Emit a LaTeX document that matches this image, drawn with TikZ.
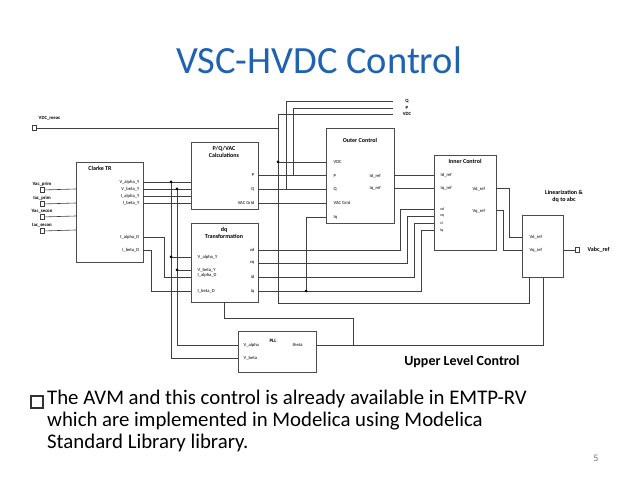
\documentclass[tikz,border=0pt]{standalone}
\usepackage{fontspec}
\setmainfont{Carlito}
\begin{document}
\begin{tikzpicture}[x=1pt,y=-1pt,
  box/.style={draw=black!70,line width=0.6pt,anchor=north west,inner sep=0},
  w/.style={draw=black!75,line width=0.6pt},
  lbl/.style={font=\fontsize{4.6}{5}\selectfont,inner sep=0.5pt},
  ttl/.style={font=\fontsize{6}{7}\selectfont\bfseries,align=center,inner sep=0},
  port/.style={draw=black!75,line width=0.5pt,minimum size=4.5pt,inner sep=0,fill=white},
  dot/.style={circle,fill=black,inner sep=0,minimum size=3pt}]
\definecolor{ttlblue}{RGB}{31,98,178}
\useasboundingbox (0,0) rectangle (638,478);
\node[font=\fontsize{38.5}{42}\selectfont,text=ttlblue] (title) at (319,60) {VSC-HVDC Control};
% boxes
\node[box,minimum width=67pt,minimum height=100pt] (clarke) at (76,162) {};
\node[ttl,anchor=north] (tclarke) at (100,166) {Clarke TR};
\node[box,minimum width=67pt,minimum height=67pt] (pq) at (191,142) {};
\node[ttl,anchor=north] (tpq) at (224,146) {P/Q/VAC\\Calculations};
\node[box,minimum width=67pt,minimum height=79pt] (dq) at (191,223) {};
\node[ttl,anchor=north] (tdq) at (224,227) {dq\\Transformation};
\node[box,minimum width=68pt,minimum height=95pt] (outer) at (326,128) {};
\node[ttl,anchor=north] (touter) at (360,138) {Outer Control};
\node[box,minimum width=62pt,minimum height=95pt] (inner) at (434,155) {};
\node[ttl,anchor=north] (tinner) at (465,159) {Inner Control};
\node[box,minimum width=41pt,minimum height=62pt] (lin) at (522,215) {};
\node[ttl] (tlin) at (564,196) {Linearization \&\\dq to abc};
\node[box,minimum width=78pt,minimum height=41pt] (pll) at (238,331) {};
% labels
\foreach \n/\t/\y in {ca/V\_alpha\_Y/182,cb/V\_beta\_Y/189,cc/I\_alpha\_Y/196,cd/I\_beta\_Y/203,ce/I\_alpha\_D/237,cf/I\_beta\_D/250}
  \node[lbl,anchor=east] (l\n) at (140,\y) {\t};
\foreach \n/\t/\y in {pa/P/175,pb/Q/189,pc/VAC Grid/203}
  \node[lbl,anchor=east] (l\n) at (255,\y) {\t};
\foreach \n/\t/\y in {da/vd/250,db/vq/263,dc/id/277,dd/iq/291}
  \node[lbl,anchor=east] (l\n) at (255,\y) {\t};
\node[lbl,anchor=west] (lv1) at (197,257) {V\_alpha\_Y};
\node[lbl,anchor=west] (lv2) at (197,270) {V\_beta\_Y};
\node[lbl,anchor=west] (lv3) at (197,275.5) {I\_alpha\_D};
\node[lbl,anchor=west] (lv4) at (197,291) {I\_beta\_D};
\foreach \n/\t/\y in {oa/VDC/162,ob/P/176,oc/Q/189,od/VAC Grid/203,oe/Iq/217}
  \node[lbl,anchor=west] (l\n) at (333,\y) {\t};
\node[lbl,anchor=west] (lof) at (369,176) {Id\_ref};
\node[lbl,anchor=west] (log) at (369,188) {Iq\_ref};
\node[lbl,anchor=west] (lia) at (440,175) {Id\_ref};
\node[lbl,anchor=west] (lib) at (440,188) {Iq\_ref};
\foreach \n/\t/\y in {ic1/vd/209,ic2/vq/216,ic3/vi/223,ic4/iq/230}
  \node[lbl,anchor=west,font=\fontsize{4}{4}\selectfont,inner sep=0] (l\n) at (440,\y) {\t};
\node[lbl,anchor=west] (lid) at (472,189) {Vd\_ref};
\node[lbl,anchor=west] (lie) at (472,211) {Vq\_ref};
\node[lbl,anchor=west] (lla) at (529,237) {Vd\_ref};
\node[lbl,anchor=west] (llb) at (529,250) {Vq\_ref};
\node[lbl,anchor=west] (lpa) at (243,345) {V\_alpha};
\node[lbl,anchor=west] (lpb) at (243,358) {V\_beta};
\node[lbl,font=\fontsize{5}{6}\selectfont\bfseries] (lpc) at (273,341) {PLL};
\node[lbl,anchor=west] (lpd) at (292,345) {theta};
% ports
\node[port] (vdcm) at (34,128) {};
\node[lbl,anchor=south west,font=\fontsize{4.8}{5}\selectfont\bfseries] (lvdcm) at (38,121) {VDC\_meas};
\foreach \n/\t/\y in {p1/Vac\_prim/189,p2/Iac\_prim/203,p3/Vac\_secon/216,p4/Iac\_secon/230}{
  \node[port] (\n) at (42,\y+1) {};
  \node[lbl,anchor=south,font=\fontsize{4.8}{5}\selectfont\bfseries] (l\n) at (42,\y-2.5) {\t};
  \draw[w] (\n) -- (76,\y);}
\node[port] (vabc) at (577,250) {};
\node[lbl,anchor=west,font=\fontsize{6}{7}\selectfont\bfseries] (lvabc) at (587,250) {Vabc\_ref};
\node[lbl,font=\fontsize{4.8}{5}\selectfont\bfseries] (lq) at (407,101) {Q};
\node[lbl,font=\fontsize{4.8}{5}\selectfont\bfseries] (lp) at (407,107.5) {P};
\node[lbl,font=\fontsize{4.8}{5}\selectfont\bfseries] (lvdc) at (407,114) {VDC};
% wires
\draw[w] (vdcm) -- (278,128);
\draw[w] (278,114) -- (393,114);
\draw[w] (286,101) -- (393,101);
\draw[w] (293,108) -- (393,108);
\draw[w] (278,114) -- (278,303) -- (529,303) -- (529,277);
\draw[w] (278,162) -- (326,162);
\node[dot] (d1) at (278,162) {};
\draw[w] (258,175) -- (326,175);
\draw[w] (293,175) -- (293,108);
\draw[w] (258,189) -- (326,189);
\draw[w] (286,189) -- (286,101);
\draw[w] (258,203) -- (326,203);
\foreach \y in {182,189,196,203} \draw[w] (143,\y) -- (191,\y);
\draw[w] (171,182) -- (171,358) -- (238,358);
\draw[w] (177,189) -- (177,345) -- (238,345);
\node[dot] (d2) at (171,182) {};
\node[dot] (d3) at (177,189) {};
\draw[w] (171,257) -- (191,257);
\node[dot] (d4) at (171,257) {};
\draw[w] (177,270) -- (191,270);
\node[dot] (d5) at (177,270) {};
\draw[w] (143,237) -- (164,237) -- (164,277) -- (191,277);
\draw[w] (143,250) -- (151,250) -- (151,291) -- (191,291);
\draw[w] (258,250) -- (400,250) -- (400,209) -- (434,209);
\draw[w] (258,263) -- (407,263) -- (407,216) -- (434,216);
\draw[w] (258,277) -- (414,277) -- (414,223) -- (434,223);
\draw[w] (258,291) -- (421,291) -- (421,230) -- (434,230);
\draw[w] (306,291) -- (306,217) -- (326,217);
\node[dot] (d6) at (306,291) {};
\draw[w] (394,175) -- (434,175);
\draw[w] (394,188) -- (434,188);
\draw[w] (496,188) -- (509,188) -- (509,237) -- (522,237);
\draw[w] (496,210) -- (503,210) -- (503,250) -- (522,250);
\draw[w] (563,250) -- (vabc);
\draw[w] (316,345) -- (543,345) -- (543,277);
\draw[w] (353,345) -- (353,318) -- (224,318) -- (224,302);
\node[font=\fontsize{14}{16}\selectfont\bfseries] (ulc) at (462,362) {Upper Level Control};
\node[draw=black!80,line width=1.3pt,minimum size=12pt,inner sep=0] (sq) at (37,402) {};
\node[anchor=north west,align=left,font=\fontsize{20.8}{22}\selectfont,inner sep=0] (bul) at (47,390)
 {The AVM and this control is already available in EMTP-RV\\
 which are implemented in Modelica using Modelica\\
 Standard Library library.};
\node[text=black!55,font=\fontsize{10}{12}\selectfont] (pg) at (596,458) {5};
\end{tikzpicture}
\end{document}
